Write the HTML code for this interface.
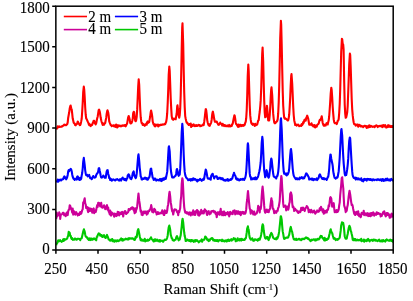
<!DOCTYPE html>
<html><head><meta charset="utf-8"><title>Raman spectra</title>
<style>html,body{margin:0;padding:0;background:#fff;width:413px;height:301px;overflow:hidden}svg{display:block}</style>
</head><body>
<svg width="413" height="301" viewBox="0 0 413 301">
<rect width="413" height="301" fill="#fff"/>
<g clip-path="url(#clip)"><polyline fill="none" stroke="#00c800" stroke-width="2.1" stroke-linejoin="round" points="56.2,245.3 56.7,243.5 57.2,243.2 57.7,242.0 58.2,240.2 58.7,241.2 59.2,240.8 59.7,241.2 60.2,240.1 60.7,241.1 61.2,241.1 61.7,241.8 62.2,241.0 62.7,240.9 63.2,239.3 63.7,240.9 64.2,239.1 64.7,240.0 65.2,239.6 65.7,239.4 66.2,239.3 66.7,238.8 67.2,238.5 67.7,236.7 68.2,235.7 68.7,231.9 69.1,232.4 69.7,232.9 70.2,235.8 70.7,235.7 71.2,238.0 71.7,239.0 72.2,238.2 72.7,239.8 73.2,239.3 73.7,239.8 74.2,239.7 74.7,238.5 75.2,238.6 75.7,239.0 76.2,239.6 76.7,239.7 77.2,238.7 77.7,238.8 78.2,238.7 78.7,238.8 79.2,239.0 79.7,239.0 80.2,240.2 80.7,238.6 81.2,238.4 81.7,238.2 82.2,236.0 82.7,234.1 83.2,231.5 83.7,229.9 83.9,229.2 84.2,230.5 84.7,231.7 85.2,234.5 85.7,236.5 86.2,236.9 86.5,236.8 86.7,237.2 87.2,237.9 87.7,238.8 88.2,238.4 88.7,239.9 89.2,238.7 89.7,238.3 90.2,240.1 90.7,238.5 91.0,238.5 91.2,239.7 91.7,238.6 92.2,239.8 92.7,238.9 93.2,239.3 93.7,238.5 94.2,238.4 94.7,238.9 95.2,239.4 95.7,239.8 96.2,240.3 96.7,237.2 97.2,236.9 97.5,235.6 97.7,235.3 98.2,234.2 98.7,233.4 99.2,233.7 99.7,233.8 100.2,235.6 100.7,235.3 101.2,236.0 101.5,235.1 101.7,235.3 102.2,236.8 102.7,237.0 103.2,236.2 103.7,235.3 104.0,235.1 104.2,235.9 104.7,236.9 105.2,237.7 105.7,238.0 106.2,236.2 106.7,235.5 107.0,234.9 107.2,235.9 107.7,236.5 108.2,238.2 108.7,239.5 109.2,239.6 109.7,239.7 110.2,240.7 110.7,240.1 111.2,239.5 111.7,240.4 112.2,239.1 112.7,241.2 113.2,240.1 113.7,240.3 114.2,241.6 114.7,241.6 115.2,240.4 115.7,240.7 116.2,241.0 116.7,241.4 117.2,240.3 117.7,240.5 118.2,241.1 118.7,240.5 119.2,240.7 119.7,240.5 120.2,239.4 120.7,239.5 121.2,238.4 121.7,239.7 122.2,240.6 122.7,239.1 123.2,240.4 123.7,240.2 124.2,239.5 124.7,239.4 125.2,239.4 125.7,238.7 126.2,239.0 126.7,239.1 127.2,239.4 127.7,239.4 128.2,238.4 128.7,239.3 129.2,238.2 129.7,238.5 130.2,238.7 130.7,238.4 131.2,238.3 131.7,238.7 132.2,238.2 132.7,238.3 133.2,238.6 133.7,239.4 134.2,238.8 134.7,240.0 135.2,238.9 135.7,236.7 136.2,237.5 136.7,237.2 137.2,233.7 137.7,230.6 138.3,229.1 138.7,230.9 139.2,233.5 139.7,236.3 140.2,238.3 140.7,240.2 141.2,240.4 141.7,239.4 142.2,240.7 142.7,240.4 143.2,240.3 143.7,240.8 144.2,240.4 144.7,238.7 145.2,241.4 145.7,241.1 146.2,240.4 146.7,240.3 147.2,240.6 147.7,239.7 148.2,240.6 148.7,240.3 149.2,240.1 149.7,239.3 150.2,238.5 150.7,238.3 151.0,237.3 151.7,239.0 152.2,239.7 152.7,239.7 153.2,240.9 153.7,241.5 154.2,239.5 154.7,241.2 155.2,239.2 155.7,240.3 156.2,240.8 156.7,239.7 157.2,239.6 157.7,240.7 158.2,241.1 158.7,240.3 159.2,241.4 159.7,240.1 160.2,241.6 160.7,240.6 161.2,240.7 161.7,240.9 162.2,240.7 162.7,241.6 163.2,241.7 163.7,240.7 164.2,240.2 164.7,239.6 165.2,239.7 165.7,240.0 166.2,239.6 166.7,239.0 167.2,237.6 167.7,235.4 168.2,230.8 168.7,227.3 169.3,225.6 169.7,227.2 170.2,229.7 170.7,234.6 171.2,236.3 171.7,238.3 172.2,238.3 172.7,240.3 173.2,240.0 173.7,240.7 174.2,240.5 174.7,240.0 175.2,239.8 175.7,239.6 176.2,237.6 176.7,236.3 177.0,236.1 177.7,237.8 178.2,239.0 178.7,240.3 179.2,239.2 179.7,239.5 180.2,237.1 180.7,235.3 181.2,230.8 181.7,226.3 182.2,220.7 182.6,218.7 183.2,222.4 183.7,227.8 184.2,232.5 184.7,236.1 185.2,237.8 185.7,241.0 186.2,239.9 186.7,240.7 187.2,239.5 187.7,239.7 188.2,240.3 188.7,240.4 189.2,241.0 189.7,240.0 190.2,240.9 190.7,241.5 191.2,240.1 191.7,241.2 192.2,240.1 192.7,240.9 193.2,241.0 193.7,241.8 194.2,240.3 194.7,240.9 195.2,241.4 195.7,240.1 196.2,240.8 196.7,240.3 197.2,240.4 197.7,241.2 198.2,241.2 198.7,242.3 199.2,241.6 199.7,241.6 200.2,240.7 200.7,240.6 201.2,240.8 201.7,239.4 202.2,241.7 202.7,240.2 203.2,239.8 203.7,239.7 204.2,239.7 204.7,238.7 205.2,236.6 205.5,236.6 206.2,237.6 206.7,238.3 207.2,239.9 207.7,240.2 208.2,239.5 208.7,241.1 209.2,239.5 209.7,240.5 210.2,239.5 210.7,239.1 211.2,238.4 211.7,238.6 212.0,238.0 212.7,238.6 213.2,240.4 213.7,239.6 214.2,240.3 214.7,240.8 215.2,240.1 215.7,240.8 216.2,240.1 216.7,241.0 217.2,240.6 217.7,240.0 218.2,241.4 218.7,240.5 219.2,240.4 219.7,240.0 220.2,240.2 220.7,240.4 221.2,240.6 221.7,241.1 222.2,239.7 222.7,240.3 223.2,241.2 223.7,240.6 224.2,240.7 224.7,241.4 225.2,240.6 225.7,240.7 226.2,240.4 226.7,241.5 227.2,241.0 227.7,239.9 228.2,240.7 228.7,239.7 229.2,241.0 229.7,240.7 230.2,240.2 230.7,240.0 231.2,239.2 231.7,240.6 232.2,239.9 232.7,239.4 233.2,239.5 233.7,238.2 234.0,238.5 234.7,238.5 235.2,238.7 235.7,241.3 236.2,239.9 236.7,239.9 237.2,240.7 237.7,238.3 238.2,240.2 238.7,240.2 239.2,239.6 239.7,240.4 240.2,238.9 240.7,240.1 241.2,240.6 241.7,238.7 242.2,239.2 242.7,239.9 243.2,239.9 243.7,239.5 244.2,240.0 244.7,239.8 245.2,238.5 245.7,238.5 246.2,236.2 246.7,232.7 247.2,228.4 247.7,227.2 247.9,226.3 248.2,228.2 248.7,229.8 249.2,234.4 249.7,237.5 250.2,238.6 250.7,239.6 251.2,239.6 251.7,239.3 252.2,238.3 252.7,239.2 253.2,240.8 253.7,240.2 254.2,240.6 254.7,239.4 255.2,239.7 255.7,239.3 256.2,240.0 256.7,239.8 257.2,240.0 257.7,240.7 258.2,239.1 258.7,239.9 259.2,238.5 259.7,239.7 260.2,238.1 260.7,236.9 261.2,234.4 261.7,231.4 262.2,226.2 262.7,224.3 263.2,225.5 263.7,230.5 264.2,233.7 264.7,236.5 265.2,238.1 265.7,238.7 266.2,237.3 266.9,236.9 267.2,238.2 267.7,237.2 268.2,239.6 268.7,240.1 269.2,238.1 269.7,237.8 270.2,235.0 270.7,234.2 271.3,232.9 271.7,233.6 272.2,234.5 272.7,236.4 273.2,237.8 273.7,238.3 274.2,238.7 274.7,239.0 275.2,238.5 275.7,239.0 276.2,239.3 276.7,237.5 277.2,238.7 277.7,237.7 278.2,236.4 278.7,234.3 279.2,231.2 279.7,226.4 280.2,221.5 280.7,216.3 281.0,216.3 281.7,219.8 282.2,226.1 282.7,231.4 283.2,233.7 283.7,237.2 284.2,238.9 284.7,237.7 285.2,238.4 285.7,237.9 286.2,237.8 286.7,237.5 287.0,237.6 287.7,237.8 288.2,237.4 288.7,235.8 289.2,234.8 289.7,231.9 290.2,228.9 290.8,226.9 291.2,228.8 291.7,231.1 292.2,232.0 292.7,235.1 293.2,237.2 293.7,239.0 294.2,239.6 294.7,239.0 295.2,239.4 295.7,239.8 296.2,238.6 296.7,239.8 297.2,239.3 297.7,239.6 298.2,239.5 298.7,238.8 299.2,238.9 299.7,239.6 300.2,239.6 300.7,239.4 301.2,240.2 301.7,239.3 302.2,238.7 302.7,239.1 303.2,239.0 303.7,238.8 304.2,239.2 304.7,238.4 305.2,238.3 305.7,237.7 306.0,237.3 306.7,238.2 307.2,237.8 307.7,238.6 308.2,238.3 308.7,239.2 309.2,239.2 309.7,239.8 310.2,240.7 310.7,241.1 311.2,240.3 311.7,239.7 312.2,240.2 312.7,239.9 313.2,239.4 313.7,239.7 314.2,239.6 314.7,239.4 315.2,240.6 315.7,239.4 316.2,239.4 316.7,240.1 317.2,239.3 317.7,238.9 318.2,239.0 318.7,239.5 319.2,238.9 319.7,238.1 320.2,236.8 320.7,235.9 321.0,236.3 321.7,236.1 322.2,237.6 322.7,237.7 323.2,238.8 323.7,239.3 324.2,240.3 324.7,237.9 325.2,240.4 325.7,239.1 326.2,239.8 326.7,240.0 327.2,238.9 327.7,239.1 328.2,238.9 328.7,237.4 329.2,235.2 329.7,233.2 330.2,230.6 330.7,229.3 331.2,231.1 331.7,232.6 332.2,233.0 332.7,235.2 333.0,236.3 333.7,238.7 334.2,238.8 334.7,238.1 335.2,239.2 335.7,240.1 336.2,239.7 336.7,239.3 337.2,239.0 337.7,239.8 338.2,239.0 338.7,239.0 339.2,238.3 339.7,237.6 340.2,234.2 340.7,230.7 341.2,225.4 341.7,223.9 342.0,222.3 342.7,223.2 343.2,222.8 343.7,225.8 344.2,230.4 344.7,236.2 345.2,237.8 345.7,238.7 346.2,238.8 346.7,238.6 347.2,235.9 347.7,234.0 348.2,230.8 348.7,228.1 349.4,225.8 349.7,226.3 350.2,227.6 350.7,230.6 351.2,231.8 351.5,233.3 352.2,236.1 352.7,239.7 353.2,240.1 353.7,238.8 354.2,240.3 354.7,240.2 355.2,239.0 355.7,240.3 356.2,240.0 356.7,240.3 357.2,239.6 357.7,240.1 358.2,240.4 358.7,240.1 359.2,239.8 359.7,240.1 360.2,239.7 360.7,240.5 361.2,238.7 361.7,241.2 362.2,240.3 362.7,240.6 363.2,240.8 363.7,239.6 364.2,241.7 364.7,239.7 365.2,240.6 365.7,240.6 366.2,241.2 366.7,240.4 367.2,239.5 367.7,240.6 368.2,238.9 368.7,240.3 369.2,240.1 369.7,241.4 370.2,240.3 370.7,240.2 371.2,240.0 371.7,239.9 372.2,240.1 372.7,240.8 373.2,239.7 373.7,240.4 374.2,239.6 374.7,240.4 375.2,240.6 375.7,239.8 376.2,240.2 376.7,240.6 377.2,241.0 377.7,241.1 378.2,240.5 378.7,239.9 379.2,239.6 379.7,241.0 380.2,241.4 380.7,240.8 381.2,241.5 381.7,240.3 382.2,240.3 382.7,241.5 383.2,240.0 383.7,240.9 384.2,240.8 384.7,240.7 385.2,241.6 385.7,240.1 386.2,240.4 386.7,239.4 387.2,240.0 387.7,240.3 388.2,240.4 388.7,240.5 389.2,240.8 389.7,240.2 390.2,239.5 390.7,240.7 391.2,240.9 391.7,240.0 392.2,240.2 392.7,241.7 393.2,241.3"/><polyline fill="none" stroke="#cc0099" stroke-width="2.1" stroke-linejoin="round" points="56.2,219.1 56.7,212.5 57.2,216.5 57.7,215.0 58.2,215.0 58.7,215.2 59.2,212.4 59.7,214.1 60.0,214.1 60.2,218.9 60.7,215.1 61.2,214.5 61.7,214.5 62.2,213.8 62.7,212.9 63.2,212.9 63.5,213.1 63.7,212.9 64.2,215.3 64.7,214.1 65.2,214.4 65.7,216.3 66.2,214.5 66.7,212.5 67.0,212.9 67.2,213.5 67.7,215.1 68.2,211.2 68.7,209.8 69.2,209.6 69.7,205.3 70.2,205.8 70.7,207.7 71.2,208.9 71.7,210.1 72.2,212.5 72.7,208.6 73.2,214.6 73.7,212.2 74.2,211.3 74.7,214.1 75.2,214.7 75.7,213.1 76.2,212.2 76.7,213.7 77.2,213.6 77.7,215.6 78.2,214.6 78.7,213.8 79.2,215.0 79.7,213.1 80.2,212.0 80.7,213.9 81.2,213.6 81.7,211.9 82.2,210.0 82.7,209.3 83.2,202.3 83.7,203.1 84.3,199.7 84.7,198.3 85.2,203.4 85.7,204.5 86.2,208.0 86.8,207.5 87.2,207.0 87.7,210.5 88.2,212.1 88.7,207.8 89.2,210.1 89.7,211.0 90.2,209.5 90.5,210.3 90.7,208.6 91.2,210.9 91.7,209.1 92.2,212.7 92.7,210.8 93.2,210.3 93.7,208.4 94.2,213.1 94.7,211.7 95.2,211.6 95.7,211.9 96.2,210.1 96.7,207.4 97.2,205.1 97.5,205.3 97.7,206.9 98.2,202.7 98.7,202.9 99.2,203.0 99.7,204.5 100.2,206.5 100.7,204.2 101.2,202.8 101.5,205.1 101.7,207.0 102.2,207.8 102.7,207.8 103.2,206.5 103.7,206.0 104.0,205.3 104.2,206.7 104.7,206.2 105.2,209.2 105.7,208.9 106.2,208.3 106.7,205.8 107.0,205.1 107.2,207.5 107.7,209.8 108.2,207.5 108.7,211.7 109.2,212.2 109.7,214.2 110.2,210.5 110.7,215.5 111.2,215.5 111.7,212.4 112.2,212.9 112.7,213.1 113.2,214.2 113.7,214.9 114.2,216.8 114.7,213.6 115.2,214.9 115.7,214.0 116.2,216.1 116.7,214.6 117.2,215.4 117.7,211.9 118.2,213.1 118.7,212.2 119.2,215.4 119.7,214.2 120.2,212.8 120.7,212.6 121.2,213.9 121.7,212.2 122.2,211.8 122.7,213.8 123.2,216.5 123.7,212.7 124.2,212.2 124.7,211.3 125.2,211.0 125.7,213.6 126.2,214.0 126.7,212.7 127.2,213.0 127.7,212.4 128.2,211.9 128.7,209.0 129.2,209.8 129.5,210.2 130.2,208.9 130.7,209.1 131.2,208.0 131.7,207.7 132.2,208.6 132.5,207.3 133.2,207.8 133.7,210.3 134.2,211.0 134.7,213.2 135.2,208.3 135.7,212.4 136.2,209.9 136.7,208.9 137.2,206.2 137.7,201.1 138.2,196.0 138.5,193.5 139.2,200.7 139.7,203.7 140.2,208.0 140.7,211.5 141.2,210.6 141.7,214.8 142.2,213.3 142.7,215.1 143.2,212.0 143.7,211.6 144.2,212.4 144.7,213.2 145.2,211.4 145.7,212.8 146.2,212.3 146.7,214.6 147.2,211.4 147.7,213.8 148.2,211.5 148.7,211.0 149.2,211.1 149.7,209.6 150.2,209.6 150.7,208.1 151.2,205.1 151.7,207.6 152.2,211.8 152.7,211.8 153.2,212.5 153.7,211.7 154.2,208.9 154.7,210.9 155.0,209.5 155.7,212.0 156.2,212.3 156.7,214.5 157.2,213.1 157.7,212.1 158.2,213.9 158.7,212.6 159.2,213.2 159.7,213.6 160.2,213.3 160.7,213.3 161.2,212.3 161.7,213.2 162.2,210.4 162.7,213.2 163.2,211.7 163.7,214.9 164.2,215.0 164.7,210.4 165.2,213.2 165.7,212.7 166.2,211.2 166.7,212.9 167.2,210.5 167.7,206.4 168.2,204.4 168.7,198.9 169.2,193.8 169.6,191.8 170.2,196.4 170.7,202.4 171.2,204.9 171.7,208.8 172.2,211.2 172.7,211.1 173.2,214.5 173.7,212.1 174.2,209.8 174.7,209.3 175.2,209.6 175.5,209.5 176.2,209.9 176.7,211.2 177.2,212.4 177.7,211.9 178.2,215.2 178.7,211.0 179.2,212.3 179.7,210.3 180.2,208.3 180.7,200.5 181.2,196.3 181.7,184.2 182.3,178.3 182.7,179.9 183.2,189.0 183.7,199.9 184.2,207.1 184.7,210.3 185.2,212.6 185.7,212.7 186.2,212.1 186.7,213.4 187.2,213.3 187.7,212.4 188.2,213.7 188.7,214.5 189.2,213.1 189.7,212.3 190.2,213.9 190.7,215.5 191.2,212.6 191.7,212.8 192.2,212.8 192.7,214.7 193.2,210.4 193.7,213.5 194.2,214.6 194.7,211.8 195.2,215.0 195.7,213.4 196.2,211.0 196.7,210.7 197.0,210.0 197.7,210.7 198.2,215.1 198.7,211.6 199.2,215.6 199.7,212.9 200.2,214.4 200.7,213.1 201.2,209.9 201.7,212.2 202.2,213.3 202.7,211.4 203.2,211.1 203.7,213.4 204.2,211.7 204.7,209.4 205.2,209.8 205.5,210.5 206.2,210.9 206.7,213.8 207.2,215.0 207.7,213.0 208.2,211.4 208.7,211.2 209.2,213.0 209.7,214.3 210.2,213.3 210.7,213.5 211.2,211.4 211.7,211.6 212.0,211.0 212.7,211.4 213.2,210.8 213.7,210.7 214.2,212.4 214.7,211.5 215.2,211.7 215.7,214.0 216.2,213.0 216.7,217.2 217.2,214.4 217.7,212.2 218.2,214.2 218.7,213.6 219.2,212.2 219.7,214.7 220.2,212.0 220.7,208.8 221.2,214.2 221.7,212.3 222.2,215.2 222.7,212.2 223.2,211.5 223.7,215.3 224.2,211.6 224.7,213.4 225.2,215.2 225.7,213.3 226.2,213.0 226.7,213.3 227.2,214.3 227.7,212.0 228.2,214.0 228.7,213.9 229.2,216.4 229.7,212.6 230.2,211.8 230.7,214.1 231.2,212.5 231.7,213.4 232.2,213.0 232.7,214.1 233.2,210.9 233.7,211.0 234.0,211.0 234.7,210.4 235.2,214.4 235.7,211.8 236.2,211.9 236.7,211.2 237.2,213.8 237.7,213.2 238.2,211.3 238.7,213.8 239.2,213.2 239.7,213.9 240.2,211.9 240.7,215.2 241.2,213.3 241.7,212.5 242.2,211.9 242.7,212.2 243.2,213.7 243.7,212.0 244.2,213.7 244.7,212.9 245.2,213.7 245.7,212.3 246.2,209.4 246.7,202.9 247.2,199.5 247.7,193.7 248.0,191.1 248.7,198.5 249.2,203.8 249.7,208.4 250.2,209.7 250.7,213.6 251.2,211.8 251.7,210.4 252.0,211.0 252.7,211.6 253.2,214.4 253.7,213.2 254.2,211.6 254.7,214.6 255.2,214.6 255.7,213.9 256.2,213.5 256.7,213.5 257.2,211.5 257.7,210.0 258.2,205.9 258.5,206.5 259.2,208.4 259.7,212.4 260.2,207.0 260.7,209.1 261.2,205.1 261.7,196.1 262.2,189.8 262.6,186.6 263.2,192.7 263.7,199.1 264.2,205.9 264.7,211.0 265.2,212.8 265.7,211.3 266.2,210.4 266.7,209.5 267.2,211.9 267.7,210.2 268.2,210.3 268.7,212.3 269.2,210.1 269.7,209.5 270.2,207.4 270.7,203.3 271.4,198.2 271.7,200.3 272.2,201.2 272.7,208.8 273.2,208.5 273.7,210.0 274.2,213.1 274.7,211.8 275.2,211.2 275.7,211.7 276.2,212.8 276.7,211.5 277.2,210.6 277.7,210.7 278.0,208.5 278.7,206.8 279.2,204.1 279.7,200.8 280.2,192.1 280.7,183.4 281.3,176.0 281.7,178.3 282.2,187.8 282.7,195.0 283.2,203.4 283.7,206.9 284.2,206.0 284.7,206.3 285.2,205.5 285.5,205.5 286.2,210.4 286.7,208.1 287.2,209.3 287.7,206.5 288.2,209.6 288.7,207.9 289.2,203.7 289.7,202.1 290.2,194.0 290.9,192.4 291.2,193.4 291.7,195.3 292.2,203.0 292.7,207.2 293.2,206.3 293.7,207.6 294.2,211.0 294.7,210.3 295.2,208.8 295.7,210.1 296.2,210.4 296.7,210.4 297.2,211.7 297.7,211.0 298.2,213.0 298.7,212.5 299.2,211.5 299.7,212.0 300.2,212.2 300.7,211.0 301.2,207.9 301.7,210.1 302.2,208.3 302.7,209.9 303.0,207.5 303.7,208.7 304.2,208.9 304.7,211.1 305.2,208.9 305.7,207.7 306.2,207.7 306.7,206.0 307.0,206.5 307.7,207.3 308.2,208.8 308.7,212.2 309.2,209.8 309.7,210.9 310.2,211.0 310.7,212.4 311.2,209.9 311.7,210.7 312.2,211.6 312.7,212.5 313.2,211.6 313.7,211.0 314.2,210.5 314.7,212.4 315.2,213.7 315.7,212.2 316.2,212.0 316.7,212.3 317.2,210.4 317.7,211.2 318.2,211.2 318.7,211.8 319.2,211.0 319.7,208.4 320.2,210.2 320.7,209.5 321.0,206.8 321.7,208.8 322.2,210.2 322.7,211.9 323.2,209.2 323.7,213.7 324.2,210.8 324.7,213.2 325.2,211.5 325.7,210.8 326.2,211.1 326.7,212.5 327.2,209.8 327.7,210.0 328.2,208.8 328.7,205.2 329.2,206.3 329.7,201.6 330.2,197.7 330.5,197.1 331.2,198.2 331.7,202.3 332.2,206.7 332.7,206.4 333.0,205.5 333.7,203.2 334.2,208.2 334.7,212.2 335.2,210.5 335.7,211.1 336.2,212.2 336.7,210.1 337.2,211.5 337.7,211.9 338.2,210.8 338.7,209.3 339.2,205.4 339.7,202.6 340.2,195.0 340.7,189.9 341.2,184.9 341.7,178.3 342.2,177.3 342.7,183.3 343.3,188.5 343.7,197.3 344.2,205.7 344.7,207.1 345.2,208.7 345.7,212.1 346.2,208.7 346.7,210.9 347.2,207.1 347.7,205.3 348.2,200.8 348.7,196.1 349.2,192.6 349.5,190.8 350.2,194.5 350.7,198.4 351.2,202.1 351.7,205.0 352.2,204.5 352.7,206.1 353.2,209.0 353.7,211.4 354.2,213.8 354.7,212.0 355.2,215.0 355.7,213.9 356.2,213.2 356.7,211.8 357.2,214.0 357.7,214.7 358.2,211.3 358.7,215.5 359.2,216.2 359.7,214.4 360.2,214.6 360.7,217.3 361.2,215.7 361.7,212.7 362.2,214.0 362.7,213.8 363.2,213.8 363.7,210.7 364.2,215.1 364.7,213.1 365.2,214.3 365.7,213.9 366.2,215.3 366.7,213.7 367.2,213.0 367.7,214.8 368.2,216.1 368.7,213.6 369.2,216.0 369.7,214.5 370.2,213.4 370.7,216.2 371.2,213.0 371.7,215.5 372.2,213.4 372.7,214.7 373.2,212.4 373.7,213.0 374.2,215.6 374.7,214.4 375.2,214.2 375.7,213.5 376.2,214.8 376.7,212.2 377.2,212.6 377.7,213.9 378.2,213.0 378.7,213.2 379.2,214.0 379.7,214.0 380.2,213.8 380.7,216.5 381.2,215.6 381.7,215.9 382.2,214.1 382.7,213.4 383.2,212.1 383.7,213.7 384.2,211.2 384.7,213.3 385.2,215.2 385.7,216.4 386.2,215.5 386.7,213.0 387.2,214.9 387.7,213.1 388.2,215.3 388.7,214.0 389.2,215.4 389.7,217.8 390.2,215.5 390.7,217.4 391.2,214.4 391.7,213.7 392.2,216.0 392.7,216.6 393.2,213.4"/><polyline fill="none" stroke="#0000ff" stroke-width="2.1" stroke-linejoin="round" points="56.2,182.3 56.7,181.5 57.2,181.2 57.7,179.5 58.2,181.7 58.7,180.9 59.2,179.8 59.7,180.4 60.2,180.1 60.7,179.6 61.2,180.4 61.7,179.6 62.2,179.5 62.7,179.0 63.2,179.1 63.7,177.5 64.3,176.4 64.7,176.6 65.2,178.2 65.7,178.3 66.2,179.4 66.7,178.3 67.2,177.0 67.7,174.9 68.2,171.4 68.8,170.0 69.2,171.3 69.7,169.7 70.2,169.6 70.7,168.9 71.2,169.5 71.7,171.2 72.2,174.5 72.7,176.7 73.2,178.1 73.7,179.0 74.2,179.1 74.7,179.9 75.2,178.7 75.7,179.2 76.2,179.4 76.7,179.6 77.2,176.6 77.6,176.4 78.2,177.3 78.7,179.4 79.2,179.0 79.7,180.0 80.2,177.9 80.7,179.4 81.2,178.6 81.7,175.4 82.2,173.0 82.7,168.5 83.2,161.8 83.8,157.9 84.2,161.1 84.7,165.2 85.2,170.3 85.7,173.4 86.2,175.3 86.7,174.6 87.0,174.7 87.2,174.9 87.7,176.4 88.2,176.2 88.7,175.9 89.2,174.9 89.5,176.3 89.7,176.5 90.2,178.2 90.7,178.3 91.2,178.4 91.7,179.2 92.2,178.4 92.7,176.8 93.2,176.0 93.5,176.3 93.7,176.6 94.2,177.3 94.7,177.6 95.2,177.2 95.7,177.1 96.2,175.1 96.5,174.5 96.7,174.2 97.2,173.3 97.7,172.9 98.2,171.4 98.7,168.3 99.0,168.4 99.2,168.2 99.7,170.8 100.2,173.0 100.7,175.8 101.2,177.4 101.7,177.6 102.2,177.2 102.7,176.5 103.2,175.7 103.5,176.0 103.7,175.9 104.2,176.9 104.7,177.8 105.2,177.7 105.7,177.8 106.2,174.4 106.7,171.4 107.3,170.1 107.7,170.3 108.2,174.0 108.7,175.4 109.2,178.0 109.7,177.7 110.2,179.9 110.7,179.5 111.2,179.1 111.7,180.7 112.2,180.2 112.7,179.8 113.2,179.4 113.7,179.8 114.2,179.8 114.7,180.3 115.2,180.4 115.7,179.5 116.2,179.6 116.7,179.6 117.2,179.1 117.7,179.6 118.2,179.9 118.7,180.3 119.2,180.7 119.7,179.4 120.2,180.2 120.7,179.4 121.2,180.6 121.7,178.6 122.2,178.3 122.4,177.9 122.7,177.6 123.2,178.9 123.7,179.1 124.2,179.8 124.7,178.8 125.2,180.1 125.7,179.1 126.2,180.5 126.7,178.8 127.2,178.6 127.7,175.6 128.2,175.1 128.6,174.3 129.2,175.1 129.7,177.0 130.2,178.0 130.7,178.9 131.2,179.1 131.7,178.3 132.2,176.3 132.7,173.4 133.2,172.0 133.4,172.3 133.7,171.4 134.2,174.9 134.7,176.2 135.2,177.3 135.7,178.1 136.2,176.8 136.7,173.7 137.2,167.8 137.7,161.7 138.2,155.8 138.5,154.4 139.2,160.8 139.7,167.5 140.2,171.7 140.7,176.4 141.2,177.2 141.7,179.4 142.2,179.5 142.7,178.5 143.2,178.6 143.7,178.9 144.2,178.1 144.7,178.5 145.0,177.5 145.7,178.0 146.2,179.2 146.7,178.0 147.2,179.6 147.7,179.8 148.2,179.0 148.7,178.0 149.2,177.3 149.7,175.8 150.2,171.8 150.7,168.9 150.9,169.3 151.2,168.7 151.7,172.6 152.2,174.8 152.7,177.9 153.2,178.1 153.7,180.0 154.2,179.7 154.7,178.6 155.2,178.5 155.7,179.6 156.2,180.6 156.7,179.9 157.2,179.9 157.7,179.7 158.2,180.3 158.7,180.0 159.2,180.0 159.7,179.2 160.2,180.5 160.7,180.6 161.2,178.9 161.7,181.1 162.2,180.1 162.7,179.3 163.2,178.3 163.7,179.8 164.2,179.6 164.7,178.7 165.2,177.7 165.7,178.9 166.2,176.7 166.7,174.4 167.2,171.9 167.7,164.4 168.2,155.2 168.7,147.4 169.0,146.3 169.7,151.5 170.2,161.4 170.7,168.3 171.2,172.8 171.7,175.2 172.2,177.4 172.7,177.4 173.2,177.3 173.7,177.5 174.0,177.0 174.7,176.4 175.2,175.9 175.7,175.6 176.2,173.5 176.7,169.7 177.0,169.0 177.7,171.5 178.2,174.8 178.7,175.8 179.2,175.0 179.7,174.6 180.2,168.9 180.7,158.8 181.2,145.8 181.7,132.3 182.3,123.9 182.7,128.2 183.2,139.8 183.7,154.4 184.2,164.9 184.7,171.9 185.2,174.9 185.7,176.4 186.2,177.5 186.7,178.1 187.2,178.7 187.7,179.1 188.2,180.2 188.7,179.9 189.2,179.3 189.7,180.0 190.2,179.2 190.7,180.6 191.2,180.1 191.7,179.0 192.2,180.3 192.7,180.3 193.2,178.3 193.7,179.4 194.2,179.6 194.7,178.8 195.2,179.3 195.7,179.4 196.2,180.3 196.7,180.1 197.2,181.5 197.7,179.7 198.2,180.6 198.7,180.0 199.2,180.1 199.7,179.2 200.2,178.8 200.7,179.4 201.2,180.3 201.7,180.8 202.2,180.1 202.7,179.9 203.2,178.9 203.7,179.8 204.2,178.5 204.7,175.2 205.2,172.5 205.7,169.6 205.9,169.9 206.2,170.7 206.7,173.1 207.2,176.2 207.7,178.2 208.2,178.7 208.7,178.6 209.2,178.6 209.7,178.3 210.2,179.3 210.7,179.6 211.2,175.9 211.7,175.2 212.3,173.9 212.7,173.8 213.2,176.1 213.7,176.6 214.2,178.4 214.7,177.0 215.2,176.8 215.8,176.3 216.2,176.3 216.7,176.2 217.2,177.8 217.7,179.0 218.2,178.7 218.7,178.8 219.2,177.7 219.7,178.1 220.2,178.3 220.5,177.8 221.2,179.2 221.7,178.3 222.2,178.2 222.7,178.2 223.2,180.1 223.7,179.6 224.2,180.3 224.7,180.1 225.2,180.8 225.7,180.6 226.2,179.6 226.7,180.0 227.2,180.5 227.7,179.1 228.2,180.7 228.7,180.6 229.2,180.4 229.7,179.7 230.2,179.9 230.7,179.0 231.2,179.6 231.7,178.9 232.2,178.6 232.7,176.8 233.2,175.2 233.7,173.8 234.0,172.7 234.7,175.1 235.2,175.5 235.7,176.9 236.2,179.0 236.7,179.4 237.2,179.8 237.7,178.6 238.2,179.6 238.7,179.7 239.2,180.4 239.7,179.6 240.2,179.9 240.7,179.0 241.2,179.4 241.7,179.2 242.2,179.8 242.7,178.7 243.2,178.7 243.7,179.4 244.2,179.9 244.7,178.7 245.2,177.9 245.7,175.6 246.2,172.2 246.7,164.0 247.2,153.9 247.7,144.5 247.9,143.4 248.2,145.1 248.7,154.5 249.2,164.7 249.7,173.4 250.2,176.7 250.7,177.0 251.2,179.5 251.7,178.8 252.2,178.3 252.7,179.2 253.2,179.0 253.7,178.6 254.2,177.9 254.7,179.1 255.2,179.2 255.7,177.4 256.2,179.2 256.7,179.0 257.2,177.9 257.7,177.5 258.2,176.1 258.7,173.9 259.2,172.0 259.8,169.3 260.2,166.1 260.7,162.2 261.2,153.7 261.7,142.9 262.3,136.9 262.7,139.8 263.2,150.8 263.7,162.4 264.2,170.3 264.7,173.7 265.2,177.3 265.7,173.9 266.2,171.5 266.6,170.2 267.2,172.7 267.7,176.6 268.2,176.8 268.7,177.7 269.2,176.2 269.7,171.9 270.2,168.3 270.7,161.7 271.3,158.5 271.7,160.0 272.2,164.8 272.7,169.6 273.2,173.8 273.7,176.3 274.2,176.9 274.7,177.1 275.2,177.5 275.7,177.7 276.2,178.5 276.7,176.2 277.2,176.3 277.7,174.8 278.2,171.8 278.7,166.8 279.2,158.2 279.7,146.6 280.2,131.5 280.7,120.2 281.0,118.3 281.7,129.0 282.2,142.9 282.7,156.4 283.2,165.0 283.7,171.3 284.2,173.7 284.7,173.9 285.2,173.4 285.7,174.7 286.4,173.5 286.7,175.4 287.2,173.5 287.7,174.6 288.2,173.4 288.7,172.0 289.2,168.6 289.7,161.8 290.2,155.3 290.7,150.1 291.0,149.0 291.7,154.7 292.2,162.1 292.7,168.6 293.2,173.0 293.7,175.6 294.2,176.6 294.7,177.6 295.2,178.2 295.7,179.1 296.2,178.6 296.7,178.2 297.2,179.4 297.7,178.6 298.2,178.7 298.7,179.0 299.2,179.4 299.7,177.5 300.2,178.0 300.7,178.4 301.2,177.7 301.7,177.1 302.0,177.5 302.7,178.5 303.2,177.6 303.7,178.4 304.2,178.2 304.7,176.7 305.2,176.2 305.7,174.5 306.2,173.4 306.6,173.5 307.2,174.7 307.7,175.1 308.2,176.3 308.7,177.0 309.2,179.5 309.7,179.4 310.2,179.1 310.7,178.9 311.2,178.5 311.7,179.7 312.2,179.7 312.7,178.7 313.2,180.2 313.7,180.0 314.2,179.0 314.7,179.2 315.2,179.3 315.7,179.6 316.2,179.4 316.7,178.4 317.2,180.1 317.7,179.1 318.2,178.9 318.7,177.7 319.2,175.4 319.9,174.3 320.2,175.0 320.7,176.2 321.2,177.1 321.7,177.9 322.2,178.9 322.7,178.6 323.2,178.9 323.7,178.0 324.2,179.3 324.7,178.6 325.2,178.8 325.7,179.0 326.2,179.1 326.7,179.9 327.2,178.6 327.7,177.1 328.2,176.8 328.7,173.5 329.2,168.8 329.7,161.0 330.4,154.5 330.7,154.7 331.2,158.4 331.7,160.7 332.4,164.0 332.7,165.9 333.2,171.1 333.7,174.1 334.2,176.3 334.7,177.8 335.2,178.0 335.7,178.7 336.2,178.0 336.7,177.4 337.2,177.7 337.7,176.9 338.2,174.0 338.7,171.2 339.2,164.8 339.7,157.8 340.2,147.5 340.7,137.6 341.2,130.1 341.5,129.0 342.2,135.7 342.7,146.0 343.2,155.9 343.7,163.6 344.2,168.8 344.7,173.7 345.2,175.4 345.7,174.8 346.2,175.0 346.7,172.3 347.2,169.2 347.7,165.0 348.2,158.9 348.7,148.9 349.2,141.2 349.8,137.5 350.2,138.5 350.7,147.1 351.2,156.1 351.7,164.3 352.2,171.4 352.6,175.0 353.2,176.8 353.7,177.8 354.2,178.1 354.7,177.9 355.2,177.7 355.7,179.6 356.2,179.0 356.7,177.9 357.2,178.6 357.7,179.4 358.2,179.4 358.7,178.4 359.2,179.2 359.7,179.5 360.2,179.6 360.7,179.6 361.2,178.3 361.7,180.6 362.2,179.6 362.7,180.6 363.2,181.3 363.7,179.5 364.2,178.8 364.7,180.1 365.2,179.5 365.7,179.3 366.2,179.0 366.7,180.6 367.2,179.4 367.7,178.8 368.2,179.4 368.7,179.0 369.2,179.8 369.7,179.4 370.2,179.0 370.7,180.0 371.2,179.3 371.7,180.1 372.2,180.5 372.7,179.5 373.2,179.3 373.7,179.8 374.2,180.2 374.7,179.7 375.2,179.8 375.7,179.7 376.2,179.9 376.7,180.1 377.2,179.3 377.7,179.4 378.2,179.8 378.7,179.3 379.2,179.8 379.7,180.1 380.2,179.7 380.7,179.4 381.2,179.3 381.7,180.8 382.2,180.3 382.7,179.1 383.2,179.2 383.7,180.9 384.2,180.7 384.7,179.8 385.2,180.4 385.7,178.9 386.2,179.7 386.7,180.2 387.2,178.6 387.7,179.3 388.2,180.2 388.7,180.4 389.2,179.4 389.7,179.9 390.2,180.7 390.7,179.5 391.2,178.9 391.7,179.7 392.2,179.5 392.7,180.5 393.2,179.8"/><polyline fill="none" stroke="#ff0000" stroke-width="2.1" stroke-linejoin="round" points="56.2,129.2 56.7,128.9 57.2,127.9 57.7,126.3 58.2,127.3 58.7,127.0 59.2,126.4 59.7,127.0 60.2,126.8 60.7,126.8 61.2,126.6 61.7,126.8 62.2,126.0 62.7,126.1 63.2,125.5 63.7,125.5 64.2,124.6 64.7,124.7 65.2,124.9 65.7,125.3 66.2,125.2 66.7,124.4 67.2,124.2 67.7,122.4 68.2,117.7 68.7,115.0 69.2,112.3 69.7,108.6 70.2,106.4 70.6,105.5 71.2,108.3 71.7,109.5 72.2,113.6 72.7,118.5 73.2,120.6 73.7,122.7 74.2,123.4 74.7,123.5 75.2,125.1 75.7,125.3 76.2,124.4 76.7,124.3 77.2,123.4 77.7,121.5 77.9,121.9 78.2,122.3 78.7,123.6 79.2,124.2 79.7,125.1 80.2,125.0 80.7,123.8 81.2,121.4 81.7,118.7 82.2,111.5 82.7,103.0 83.2,92.0 83.8,86.6 84.2,89.4 84.7,97.4 85.2,107.5 85.7,114.7 86.2,118.5 86.7,119.1 87.2,120.3 87.7,121.5 88.2,122.4 88.7,124.0 89.2,125.2 89.7,124.2 90.2,125.5 90.7,126.1 91.2,125.2 91.7,124.6 92.2,124.8 92.7,123.1 93.2,121.9 93.6,120.8 94.2,120.9 94.7,123.1 95.2,123.7 95.7,124.4 96.2,123.2 96.7,120.5 97.2,118.3 97.7,116.5 98.2,113.2 98.7,110.0 99.1,109.7 99.7,111.5 100.2,114.3 100.7,117.8 101.2,120.2 101.7,122.1 102.2,123.4 102.7,125.0 103.2,123.4 103.7,124.7 104.2,124.7 104.7,123.2 105.2,123.0 105.7,120.2 106.2,117.9 106.7,113.6 107.2,111.2 107.5,110.3 107.7,110.8 108.2,112.5 108.7,115.9 109.2,121.2 109.7,122.6 110.2,123.8 110.7,125.1 111.2,125.3 111.7,126.1 112.2,125.7 112.7,125.8 113.2,125.4 113.7,126.2 114.2,125.3 114.7,126.3 115.2,126.9 115.7,125.1 116.2,124.5 116.7,126.4 117.2,127.5 117.7,125.4 118.2,125.3 118.7,126.4 119.2,125.5 119.7,125.7 120.2,125.8 120.7,126.3 121.2,125.7 121.7,126.1 122.2,125.8 122.7,125.4 123.2,125.7 123.7,125.3 124.2,125.8 124.7,125.0 125.2,125.0 125.7,126.3 126.2,125.1 126.7,124.4 127.2,123.2 127.7,120.1 128.2,117.3 128.7,116.0 129.2,117.5 129.7,119.4 130.2,122.9 130.7,123.4 131.2,123.3 131.7,122.7 132.2,121.0 132.7,118.8 133.2,113.2 133.7,111.8 134.2,112.3 134.7,117.2 135.2,120.7 135.7,121.2 136.2,120.1 136.7,116.8 137.2,109.4 137.7,97.8 138.2,86.4 138.7,79.4 139.2,84.9 139.7,97.5 140.2,109.2 140.7,117.2 141.2,121.2 141.7,123.3 142.2,123.0 142.7,124.9 143.2,124.3 143.7,124.1 144.2,125.3 144.7,125.8 145.2,125.3 145.7,124.8 146.2,123.6 146.7,124.7 147.2,122.4 147.4,121.7 147.7,121.4 148.2,122.8 148.7,122.1 149.2,122.1 149.7,119.1 150.2,116.3 150.7,112.3 151.1,110.5 151.7,113.2 152.2,116.3 152.7,121.5 153.2,123.3 153.7,124.6 154.2,124.2 154.7,126.2 155.2,126.4 155.7,124.6 156.2,125.5 156.7,124.9 157.2,125.3 157.7,124.6 158.2,126.4 158.7,124.7 159.2,125.1 159.7,125.6 160.2,124.8 160.7,125.0 161.2,124.8 161.7,125.0 162.2,124.3 162.7,124.6 163.2,124.6 163.7,124.4 164.2,124.4 164.7,123.9 165.2,124.1 165.7,122.8 166.2,121.7 166.7,118.6 167.2,113.2 167.7,103.2 168.2,90.5 168.7,74.8 169.3,66.5 169.7,70.9 170.2,84.0 170.7,98.0 171.2,108.1 171.7,116.1 172.2,118.9 172.7,118.7 173.2,119.9 173.7,118.6 174.3,118.8 174.7,119.0 175.2,119.1 175.7,119.2 176.2,116.2 176.7,113.5 177.2,106.3 177.5,105.3 178.2,111.4 178.7,115.8 179.2,117.8 179.7,115.3 180.2,108.7 180.7,95.5 181.2,73.8 181.7,48.8 182.2,27.3 182.5,23.4 183.2,43.6 183.7,69.9 184.2,92.1 184.7,106.9 185.2,116.1 185.7,118.7 186.2,121.0 186.7,122.7 187.2,122.5 187.7,123.8 188.2,124.1 188.7,124.9 189.2,124.0 189.7,124.4 190.2,125.1 190.7,123.6 191.2,127.0 191.7,124.8 192.2,124.9 192.7,125.9 193.2,125.4 193.7,124.4 194.2,125.9 194.7,126.1 195.2,125.3 195.7,125.4 196.2,125.9 196.7,125.1 197.2,125.9 197.7,125.8 198.2,125.3 198.7,124.8 199.2,125.5 199.7,125.1 200.2,126.2 200.7,125.7 201.2,126.0 201.7,125.6 202.2,125.5 202.7,124.7 203.2,125.3 203.7,125.1 204.2,121.9 204.7,118.1 205.2,113.4 205.7,109.3 205.9,109.2 206.2,110.2 206.7,114.3 207.2,120.1 207.7,122.5 208.2,124.3 208.7,125.3 209.2,124.8 209.7,125.8 210.2,124.4 210.7,123.6 211.2,122.3 211.7,119.4 212.2,114.5 212.7,112.0 212.9,111.6 213.2,113.2 213.7,115.8 214.2,119.1 214.7,121.1 215.2,121.9 215.7,121.7 216.2,121.6 216.7,121.5 217.2,122.8 217.7,123.4 218.2,124.7 218.7,124.9 219.2,124.0 219.7,123.9 220.2,122.6 220.5,123.4 221.2,123.7 221.7,124.4 222.2,125.6 222.7,123.7 223.2,125.5 223.7,124.9 224.2,126.1 224.7,125.0 225.2,125.6 225.7,126.0 226.2,126.3 226.7,126.0 227.2,125.4 227.7,125.6 228.2,126.4 228.7,125.9 229.2,124.9 229.7,126.3 230.2,126.0 230.7,126.3 231.2,125.4 231.7,125.9 232.2,124.2 232.7,123.9 233.2,120.9 233.7,118.4 234.2,116.1 234.4,115.2 234.7,115.8 235.2,118.7 235.7,122.5 236.2,124.3 236.7,124.2 237.2,125.6 237.7,126.0 238.2,126.9 238.7,124.6 239.2,125.3 239.7,126.4 240.2,124.8 240.7,124.9 241.2,125.9 241.7,126.1 242.2,125.0 242.7,125.6 243.2,125.2 243.7,125.8 244.2,124.6 244.7,124.8 245.2,122.9 245.7,121.8 246.2,118.2 246.7,110.6 247.2,95.7 247.7,76.5 248.3,64.6 248.7,71.1 249.2,87.9 249.7,104.6 250.2,115.4 250.7,119.7 251.2,122.9 251.7,123.9 252.2,123.7 252.7,124.9 253.2,123.8 253.7,124.4 254.2,124.5 254.7,126.0 255.2,123.8 255.7,125.0 256.2,125.1 256.7,124.5 257.2,124.6 257.7,122.6 258.2,120.5 258.7,120.1 259.2,115.7 259.7,112.0 260.3,105.8 260.7,100.4 261.2,88.3 261.7,69.9 262.2,53.5 262.6,47.6 263.2,61.5 263.7,82.7 264.2,100.6 264.7,112.4 265.2,117.3 265.7,116.9 266.2,112.9 266.9,105.7 267.2,107.8 267.7,114.8 268.2,120.4 268.7,120.5 269.2,120.5 269.7,115.4 270.2,107.7 270.7,97.3 271.2,89.4 271.5,87.3 272.2,95.1 272.7,105.3 273.2,113.9 273.7,118.8 274.2,122.2 274.7,123.2 275.2,123.1 275.7,122.7 276.2,121.9 276.7,121.6 277.2,120.9 277.7,119.1 278.2,113.2 278.7,102.6 279.2,86.3 279.7,63.3 280.2,38.5 280.9,20.8 281.2,24.6 281.7,44.6 282.2,68.3 282.7,90.5 283.2,105.5 283.7,112.8 284.2,117.6 284.7,118.6 285.2,118.3 285.7,118.8 286.0,118.8 286.7,119.3 287.2,120.0 287.7,120.5 288.2,120.4 288.7,118.1 289.2,114.7 289.7,106.7 290.2,97.4 290.7,85.5 291.2,76.0 291.5,74.1 292.2,83.5 292.7,94.9 293.2,106.4 293.7,115.0 294.2,120.2 294.7,122.4 295.2,125.0 295.7,124.1 296.2,125.2 296.7,125.6 297.2,125.0 297.7,124.7 298.2,124.6 298.7,125.5 299.2,126.2 299.7,125.7 300.2,125.7 300.7,125.4 301.2,125.9 301.7,124.1 302.2,125.1 302.7,124.2 303.2,122.1 303.7,122.8 304.3,120.3 304.7,119.6 305.2,119.8 305.7,120.7 306.2,117.9 306.7,117.0 307.2,115.7 307.7,117.1 308.2,118.6 308.7,121.5 309.2,124.7 309.7,124.0 310.2,124.7 310.7,124.8 311.2,124.2 311.5,123.3 312.2,125.4 312.7,125.1 313.2,126.5 313.7,126.3 314.2,125.0 314.7,126.9 315.2,127.4 315.7,125.5 316.2,126.0 316.7,126.7 317.2,124.9 317.7,124.4 318.2,124.3 318.7,123.5 319.2,121.4 319.8,119.8 320.2,120.1 320.7,119.2 321.2,118.2 321.7,116.2 322.2,119.5 322.7,123.0 323.2,124.5 323.7,125.7 324.2,124.7 324.7,125.7 325.2,125.1 325.7,125.5 326.2,124.0 326.6,123.1 327.2,123.7 327.7,124.5 328.2,122.1 328.7,120.3 329.2,116.2 329.7,109.2 330.2,102.1 330.7,93.6 331.3,87.7 331.7,90.2 332.2,97.6 332.7,106.7 333.2,113.4 333.7,119.2 334.2,122.0 334.7,123.2 335.2,122.8 335.7,123.3 336.2,123.1 336.7,124.1 337.2,122.7 337.7,120.7 338.2,120.7 338.7,118.9 339.2,113.0 339.7,104.1 340.2,89.7 340.7,70.5 341.2,52.0 341.9,38.7 342.2,39.2 342.7,43.9 343.2,44.6 343.6,49.3 344.2,81.9 344.7,104.1 345.2,113.7 345.7,117.8 346.2,117.3 346.7,115.0 347.2,112.3 347.7,105.8 348.2,92.6 348.7,79.4 349.2,64.2 349.9,53.6 350.2,55.0 350.7,67.4 351.2,83.3 351.7,99.0 352.2,109.4 352.7,115.2 353.2,119.5 353.7,122.5 354.2,124.3 354.7,124.0 355.2,124.4 355.7,125.7 356.2,124.8 356.7,124.9 357.2,124.4 357.7,125.1 358.2,126.8 358.7,124.7 359.2,125.7 359.7,124.9 360.2,125.9 360.7,126.4 361.2,125.8 361.7,126.4 362.2,126.5 362.7,126.3 363.2,127.1 363.7,126.6 364.2,126.0 364.7,125.8 365.2,125.7 365.7,126.5 366.2,126.0 366.7,127.9 367.2,127.4 367.7,126.2 368.2,126.1 368.7,127.3 369.2,125.2 369.7,126.1 370.2,126.9 370.7,125.8 371.2,126.1 371.7,126.2 372.2,126.8 372.7,126.5 373.2,126.6 373.7,126.8 374.2,126.4 374.7,127.1 375.2,126.0 375.7,125.6 376.2,125.4 376.7,125.5 377.2,126.1 377.7,127.1 378.2,126.6 378.7,126.1 379.2,125.8 379.7,126.1 380.2,126.2 380.7,126.1 381.2,125.6 381.7,126.2 382.2,127.1 382.7,125.2 383.2,126.3 383.7,125.2 384.2,126.6 384.7,126.0 385.2,125.2 385.7,126.6 386.2,127.6 386.7,126.6 387.2,127.2 387.7,126.5 388.2,125.2 388.7,126.8 389.2,126.3 389.7,125.6 390.2,127.0 390.7,126.7 391.2,126.2 391.7,127.0 392.2,126.0 392.7,126.9 393.2,125.9"/></g>
<rect x="55.85" y="6.2" width="337.34999999999997" height="243.8" fill="none" stroke="#000" stroke-width="1.5"/>
<path d="M52.2,250.0H55.85M52.2,209.4H55.85M52.2,168.7H55.85M52.2,128.1H55.85M52.2,87.5H55.85M52.2,46.8H55.85M52.2,6.2H55.85M55.9,250.0V253.8M98.0,250.0V253.8M140.2,250.0V253.8M182.4,250.0V253.8M224.5,250.0V253.8M266.7,250.0V253.8M308.9,250.0V253.8M351.0,250.0V253.8M393.2,250.0V253.8" stroke="#000" stroke-width="1.5" fill="none"/>
<text transform="translate(49.8,253.90) scale(1,1.06)" text-anchor="end" font-size="15" font-family="'Liberation Serif','Times New Roman',serif" stroke="#000" stroke-width="0.12">0</text>
<text transform="translate(49.8,213.95) scale(1,1.06)" text-anchor="end" font-size="15" font-family="'Liberation Serif','Times New Roman',serif" stroke="#000" stroke-width="0.12">300</text>
<text transform="translate(49.8,173.50) scale(1,1.06)" text-anchor="end" font-size="15" font-family="'Liberation Serif','Times New Roman',serif" stroke="#000" stroke-width="0.12">600</text>
<text transform="translate(49.8,133.05) scale(1,1.06)" text-anchor="end" font-size="15" font-family="'Liberation Serif','Times New Roman',serif" stroke="#000" stroke-width="0.12">900</text>
<text transform="translate(49.8,92.60) scale(1,1.06)" text-anchor="end" font-size="15" font-family="'Liberation Serif','Times New Roman',serif" stroke="#000" stroke-width="0.12">1200</text>
<text transform="translate(49.8,51.95) scale(1,1.06)" text-anchor="end" font-size="15" font-family="'Liberation Serif','Times New Roman',serif" stroke="#000" stroke-width="0.12">1500</text>
<text transform="translate(49.8,12.50) scale(1,1.06)" text-anchor="end" font-size="15" font-family="'Liberation Serif','Times New Roman',serif" stroke="#000" stroke-width="0.12">1800</text>
<text transform="translate(55.40,273.6) scale(1,1.06)" text-anchor="middle" font-size="15" font-family="'Liberation Serif','Times New Roman',serif" stroke="#000" stroke-width="0.12">250</text>
<text transform="translate(96.78,273.6) scale(1,1.06)" text-anchor="middle" font-size="15" font-family="'Liberation Serif','Times New Roman',serif" stroke="#000" stroke-width="0.12">450</text>
<text transform="translate(137.95,273.6) scale(1,1.06)" text-anchor="middle" font-size="15" font-family="'Liberation Serif','Times New Roman',serif" stroke="#000" stroke-width="0.12">650</text>
<text transform="translate(183.03,273.6) scale(1,1.06)" text-anchor="middle" font-size="15" font-family="'Liberation Serif','Times New Roman',serif" stroke="#000" stroke-width="0.12">850</text>
<text transform="translate(223.96,273.6) scale(1,1.06)" text-anchor="middle" font-size="15" font-family="'Liberation Serif','Times New Roman',serif" stroke="#000" stroke-width="0.12">1050</text>
<text transform="translate(265.97,273.6) scale(1,1.06)" text-anchor="middle" font-size="15" font-family="'Liberation Serif','Times New Roman',serif" stroke="#000" stroke-width="0.12">1250</text>
<text transform="translate(306.60,273.6) scale(1,1.06)" text-anchor="middle" font-size="15" font-family="'Liberation Serif','Times New Roman',serif" stroke="#000" stroke-width="0.12">1450</text>
<text transform="translate(351.57,273.6) scale(1,1.06)" text-anchor="middle" font-size="15" font-family="'Liberation Serif','Times New Roman',serif" stroke="#000" stroke-width="0.12">1650</text>
<text transform="translate(392.45,273.6) scale(1,1.06)" text-anchor="middle" font-size="15" font-family="'Liberation Serif','Times New Roman',serif" stroke="#000" stroke-width="0.12">1850</text>
<text x="163.5" y="294" font-size="15" font-family="'Liberation Serif','Times New Roman',serif" stroke="#000" stroke-width="0.12">Raman Shift (cm<tspan dy="-4.0" font-size="8.6">-1</tspan><tspan dy="4.0">)</tspan></text>
<text transform="translate(15,181) rotate(-90)" x="0" y="0" font-size="15" font-family="'Liberation Serif','Times New Roman',serif" stroke="#000" stroke-width="0.12">Intensity (a.u.)</text>
<line x1="63.8" y1="16.5" x2="87.0" y2="16.5" stroke="#ff0000" stroke-width="1.6"/>
<text transform="translate(88.3,21.6) scale(1,1.06)" font-size="15" font-family="'Liberation Serif','Times New Roman',serif" stroke="#000" stroke-width="0.12">2 m</text>
<line x1="114.9" y1="16.5" x2="138.1" y2="16.5" stroke="#0000ff" stroke-width="1.6"/>
<text transform="translate(139.4,21.6) scale(1,1.06)" font-size="15" font-family="'Liberation Serif','Times New Roman',serif" stroke="#000" stroke-width="0.12">3 m</text>
<line x1="63.8" y1="29.6" x2="87.0" y2="29.6" stroke="#cc0099" stroke-width="1.6"/>
<text transform="translate(88.3,33.7) scale(1,1.06)" font-size="15" font-family="'Liberation Serif','Times New Roman',serif" stroke="#000" stroke-width="0.12">4 m</text>
<line x1="114.9" y1="29.6" x2="138.1" y2="29.6" stroke="#00c800" stroke-width="1.6"/>
<text transform="translate(139.4,33.7) scale(1,1.06)" font-size="15" font-family="'Liberation Serif','Times New Roman',serif" stroke="#000" stroke-width="0.12">5 m</text>
<defs><clipPath id="clip"><rect x="55.85" y="6.2" width="337.34999999999997" height="243.8"/></clipPath></defs>
</svg>
</body></html>
